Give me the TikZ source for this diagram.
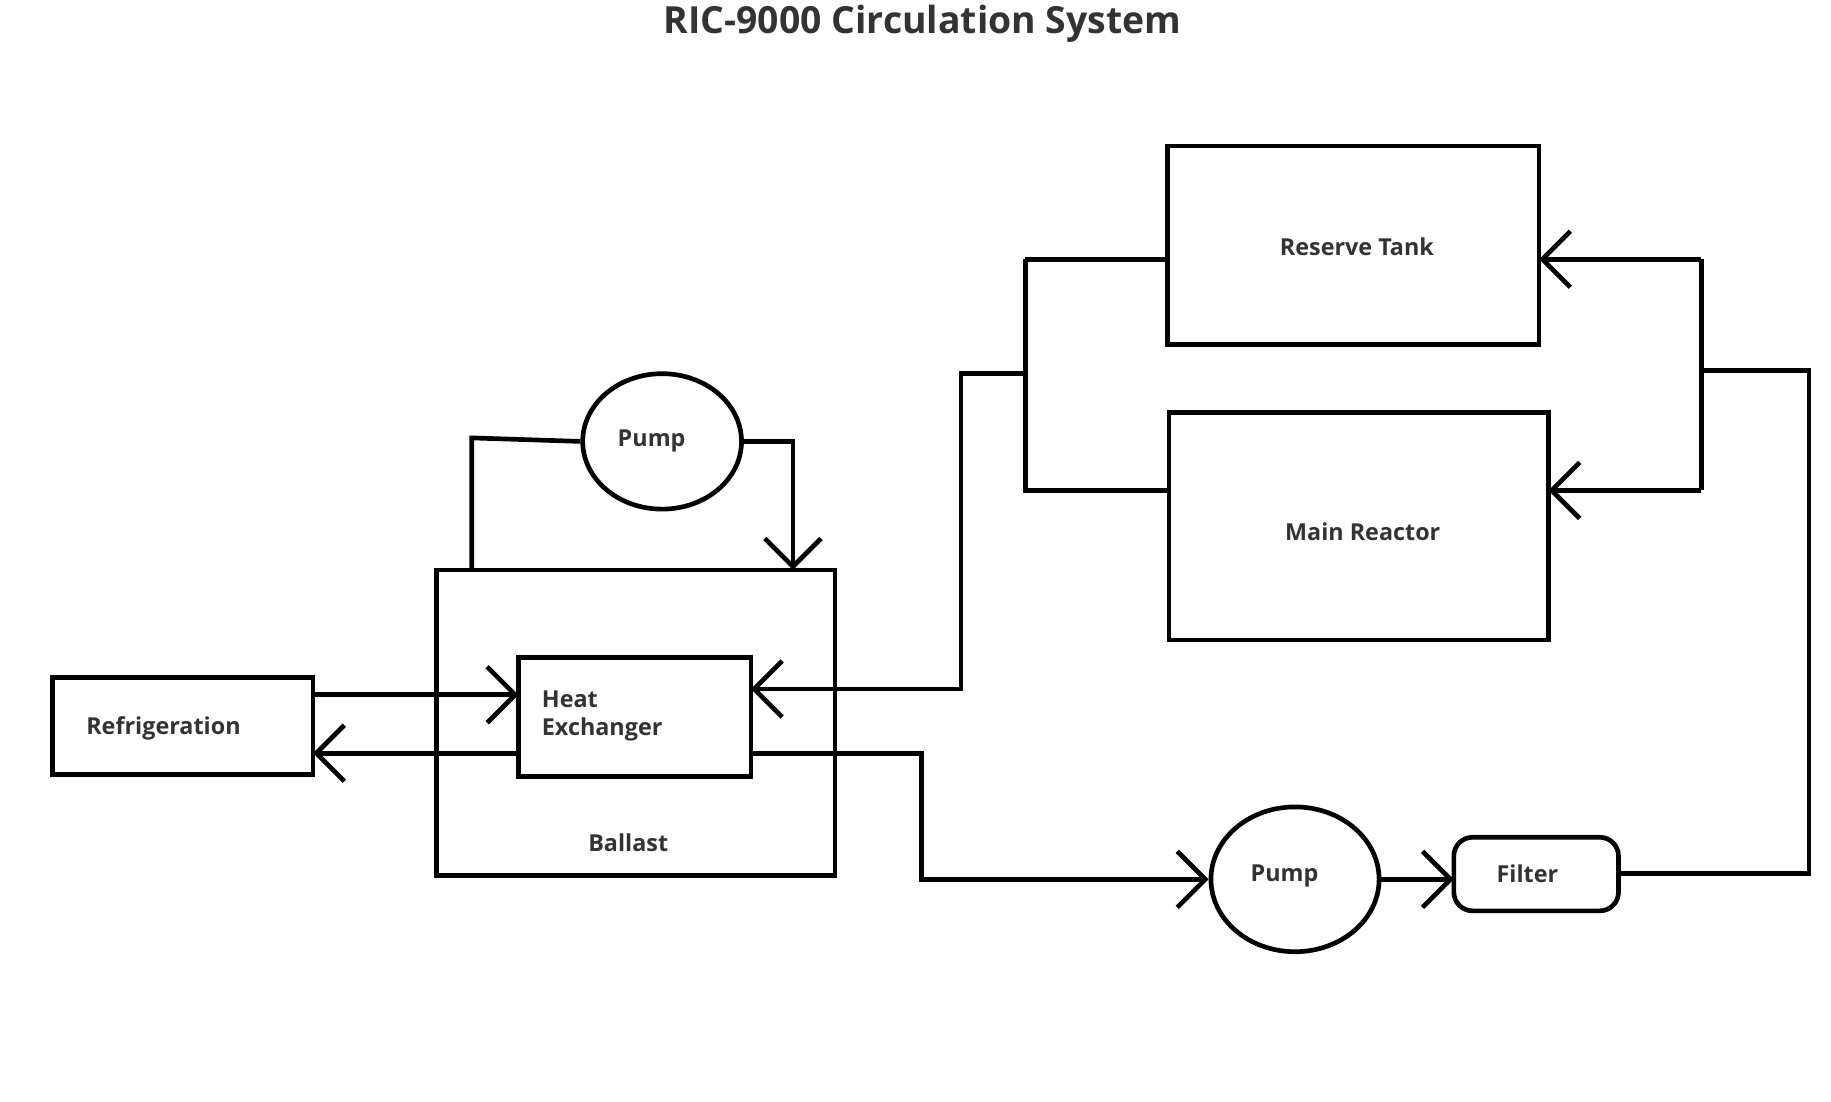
\documentclass[tikz,border=0pt]{standalone}
\usepackage{fontspec}
\setmainfont{Open Sans}
\usetikzlibrary{arrows.meta,shapes.geometric}
\begin{document}
\begin{tikzpicture}[x=0.5pt,y=-0.5pt,
  box/.style={draw,line width=2pt,inner sep=0pt},
  lbl/.style={font=\bfseries\fontsize{10}{12}\selectfont,text=black!80},
  ln/.style={line width=2pt},
  arr/.style={ln,-{Straight Barb[length=12pt,width=24pt,line width=2pt]}}]
\useasboundingbox (0,0) rectangle (1568,943);
\node[font=\bfseries\fontsize{16}{18}\selectfont,text=black!80] (title) at (790,20) {RIC-9000 Circulation System};
\draw[box] (1000,125) rectangle (1318,295);
\node[lbl] (rt) at (1162,211) {Reserve Tank};
\draw[box] (1001,353) rectangle (1326,548);
\node[lbl] (mr) at (1167,455) {Main Reactor};
\node[box,ellipse,minimum width=68pt,minimum height=58pt] (p1) at (567,378) {};
\node[lbl] at (558,378) {Pump};
\draw[box] (374,488) rectangle (715,750);
\node[lbl] (bal) at (538,722) {Ballast};
\draw[box] (444,563) rectangle (643,665);
\node[lbl,align=left,anchor=west] (hx) at (457,613) {Heat\\Exchanger};
\draw[box] (45,580) rectangle (268,663);
\node[lbl] (ref) at (140,624) {Refrigeration};
\node[box,ellipse,minimum width=72pt,minimum height=62pt] (p2) at (1109,753) {};
\node[lbl] at (1100,750) {Pump};
\draw[box,rounded corners=8pt] (1245,717) rectangle (1386,780);
\node[lbl] (fil) at (1308,748) {Filter};
% connectors
\draw[arr] (268,595) -- (444,595);
\draw[arr] (444,645) -- (268,645);
\draw[ln] (404,488) -- (404,375) -- (p1.west);
\draw[arr] (p1.east) -- (679,378) -- (679,488);
\draw[ln] (878,222) -- (1000,222);
\draw[ln] (878,222) -- (878,420) -- (1001,420);
\draw[arr] (878,320) -- (823,320) -- (823,590) -- (643,590);
\draw[arr] (643,645) -- (789,645) -- (789,753) -- (p2.west);
\draw[arr] (p2.east) -- (1245,753);
\draw[ln] (1386,748) -- (1549,748) -- (1549,317) -- (1457,317);
\draw[ln] (1457,222) -- (1457,420);
\draw[arr] (1457,222) -- (1318,222);
\draw[arr] (1457,420) -- (1326,420);
\end{tikzpicture}
\end{document}
